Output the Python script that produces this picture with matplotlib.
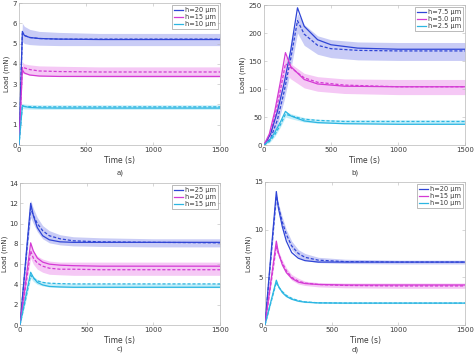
import numpy as np
import matplotlib
matplotlib.use("Agg")
import matplotlib.pyplot as plt

# ---------------- data ----------------
# Panel a
a_t = [0, 25, 40, 80, 150, 300, 600, 1000, 1500]
a_labels = ["h=20 \u03bcm", "h=15 \u03bcm", "h=10 \u03bcm"]
a_model = [[0, 5.6, 5.4, 5.3, 5.25, 5.22, 5.2, 5.2, 5.2],
           [0, 3.7, 3.55, 3.45, 3.4, 3.38, 3.38, 3.38, 3.38],
           [0, 1.95, 1.9, 1.85, 1.83, 1.82, 1.82, 1.82, 1.82]]
a_exp = [[0, 5.5, 5.4, 5.3, 5.25, 5.22, 5.22, 5.22, 5.22],
         [0, 3.85, 3.8, 3.72, 3.65, 3.62, 3.6, 3.6, 3.6],
         [0, 1.92, 1.9, 1.89, 1.88, 1.88, 1.88, 1.88, 1.88]]
a_hi = [[0, 6.0, 5.85, 5.7, 5.6, 5.55, 5.5, 5.5, 5.5],
        [0, 4.1, 4.0, 3.95, 3.9, 3.88, 3.85, 3.85, 3.85],
        [0, 2.05, 2.02, 2.0, 1.98, 1.98, 1.98, 1.98, 1.98]]
a_lo = [[0, 5.1, 5.0, 4.95, 4.92, 4.9, 4.9, 4.9, 4.9],
        [0, 3.55, 3.5, 3.45, 3.4, 3.38, 3.36, 3.35, 3.35],
        [0, 1.8, 1.78, 1.77, 1.76, 1.76, 1.76, 1.76, 1.76]]

# Panel b
b_labels = ["h=7.5 \u03bcm", "h=5.0 \u03bcm", "h=2.5 \u03bcm"]
b_t = [[0, 50, 100, 150, 200, 250, 300, 400, 500, 700, 1000, 1500],
       [0, 40, 80, 120, 160, 200, 300, 400, 600, 1000, 1500],
       [0, 40, 80, 120, 160, 200, 300, 400, 600, 1000, 1500]]
b_model = [[0, 20, 60, 110, 170, 245, 212, 188, 179, 173, 171, 171],
           [0, 20, 60, 110, 165, 140, 117, 109, 105, 104, 104],
           [0, 8, 22, 40, 60, 52, 43, 40, 38, 37, 37]]
b_exp = [[0, 12, 45, 95, 155, 222, 198, 178, 172, 169, 168, 168],
         [0, 15, 50, 95, 145, 138, 120, 112, 107, 104, 104],
         [0, 6, 18, 35, 55, 52, 46, 44, 42, 42, 42]]
b_hi = [[0, 25, 65, 115, 175, 235, 215, 195, 188, 184, 183, 183],
        [0, 22, 62, 112, 158, 145, 128, 122, 118, 117, 117],
        [0, 9, 22, 40, 60, 56, 49, 46, 45, 45, 45]]
b_lo = [[0, 8, 35, 80, 135, 200, 178, 162, 156, 152, 151, 151],
        [0, 10, 40, 80, 128, 118, 102, 96, 92, 90, 90],
        [0, 4, 15, 31, 50, 47, 41, 39, 38, 38, 38]]

# Panel c
c_t = [0, 40, 80, 100, 130, 170, 220, 300, 400, 600, 1000, 1500]
c_labels = ["h=25 \u03bcm", "h=20 \u03bcm", "h=15 \u03bcm"]
c_model = [[0, 6, 12, 10.8, 9.6, 8.8, 8.4, 8.2, 8.15, 8.15, 8.15, 8.15],
           [0, 4, 8.1, 7.3, 6.6, 6.2, 6.0, 5.9, 5.85, 5.8, 5.8, 5.8],
           [0, 2.6, 5.2, 4.7, 4.2, 3.95, 3.8, 3.75, 3.72, 3.72, 3.72, 3.72]]
c_exp = [[0, 5.8, 11.5, 10.8, 10.0, 9.3, 8.8, 8.5, 8.3, 8.2, 8.15, 8.1],
         [0, 3.6, 7.3, 6.6, 6.1, 5.8, 5.6, 5.5, 5.5, 5.45, 5.45, 5.45],
         [0, 2.4, 4.9, 4.6, 4.35, 4.2, 4.12, 4.08, 4.05, 4.05, 4.05, 4.05]]
c_hi = [[0, 6.3, 12.3, 11.5, 10.6, 9.8, 9.3, 8.9, 8.7, 8.6, 8.5, 8.5],
        [0, 4.1, 8.0, 7.3, 6.8, 6.5, 6.3, 6.2, 6.2, 6.2, 6.2, 6.2],
        [0, 2.6, 5.1, 4.8, 4.5, 4.3, 4.2, 4.15, 4.12, 4.12, 4.12, 4.12]]
c_lo = [[0, 5.3, 10.6, 10.0, 9.2, 8.5, 8.1, 7.9, 7.8, 7.75, 7.7, 7.7],
        [0, 3.3, 6.6, 6.0, 5.5, 5.2, 5.0, 4.95, 4.9, 4.9, 4.9, 4.9],
        [0, 2.2, 4.6, 4.3, 4.0, 3.85, 3.75, 3.7, 3.68, 3.68, 3.68, 3.68]]

# Panel d
d_t = [0, 42, 85, 100, 130, 160, 200, 250, 300, 400, 600, 1000, 1500]
d_labels = ["h=20 \u03bcm", "h=15 \u03bcm", "h=10 \u03bcm"]
d_model = [[0, 7, 14, 12.3, 10.3, 8.8, 7.6, 7.0, 6.75, 6.6, 6.6, 6.6, 6.6],
           [0, 4.4, 8.8, 7.6, 6.3, 5.5, 4.9, 4.5, 4.35, 4.25, 4.2, 4.2, 4.2],
           [0, 2.35, 4.7, 4.1, 3.4, 3.0, 2.7, 2.5, 2.4, 2.32, 2.3, 2.3, 2.3]]
d_exp = [[0, 6.7, 13.5, 12.5, 10.8, 9.5, 8.3, 7.5, 7.1, 6.8, 6.65, 6.6, 6.6],
         [0, 4.1, 8.3, 7.5, 6.5, 5.7, 5.0, 4.6, 4.4, 4.25, 4.15, 4.1, 4.1],
         [0, 2.25, 4.5, 4.0, 3.5, 3.1, 2.8, 2.55, 2.42, 2.33, 2.3, 2.3, 2.3]]
d_hi = [[0, 7.0, 13.8, 12.8, 11.3, 10.0, 8.8, 7.9, 7.5, 7.1, 6.9, 6.8, 6.8],
        [0, 4.3, 8.6, 7.8, 6.8, 6.0, 5.3, 4.9, 4.6, 4.45, 4.4, 4.4, 4.4],
        [0, 2.35, 4.6, 4.15, 3.6, 3.2, 2.9, 2.65, 2.5, 2.4, 2.36, 2.35, 2.35]]
d_lo = [[0, 6.4, 13.0, 12.0, 10.3, 9.0, 7.9, 7.1, 6.8, 6.55, 6.45, 6.4, 6.4],
        [0, 3.9, 8.0, 7.2, 6.2, 5.4, 4.7, 4.3, 4.15, 4.0, 3.9, 3.85, 3.85],
        [0, 2.15, 4.4, 3.85, 3.35, 2.95, 2.7, 2.45, 2.35, 2.27, 2.25, 2.25, 2.25]]

x_ticks = [0, 500, 1000, 1500]
a_yticks = [0, 1, 2, 3, 4, 5, 6, 7]
b_yticks = [0, 50, 100, 150, 200, 250]
c_yticks = [0, 2, 4, 6, 8, 10, 12, 14]
d_yticks = [0, 5, 10, 15]

# ---------------- style ----------------
line_colors = ["#2f45d6", "#d43ad4", "#2cb6e2"]
band_colors = ["#c9ccf6", "#f5c8f5", "#c4eef9"]
FS = 5.0
TXT = "#3a3a3a"
SPINE = "#b8b8b8"
W, H = 474, 355

fig = plt.figure(figsize=(4.74, 3.55), dpi=100)

# rect in pixels: left, top, right, bottom ; ylabel x px ; tag position px
panels = [
    ((19, 3, 220, 145), a_t, a_model, a_exp, a_hi, a_lo, a_labels, a_yticks, "a)", (120, 173), 7),
    ((264, 5, 465, 145), b_t, b_model, b_exp, b_hi, b_lo, b_labels, b_yticks, "b)", (355, 173), 243),
    ((20, 183, 220, 325), c_t, c_model, c_exp, c_hi, c_lo, c_labels, c_yticks, "c)", (120, 349), 5),
    ((265, 182, 465, 325), d_t, d_model, d_exp, d_hi, d_lo, d_labels, d_yticks, "d)", (355, 350), 249),
]

for px, tt, model, exp, hi, lo, labels, yticks, tag, tagpos, ylx in panels:
    l, t_, r, b = px
    ax = fig.add_axes([l / W, 1 - b / H, (r - l) / W, (b - t_) / H])
    for i in range(3):
        t = tt[i] if isinstance(tt[0], list) else tt
        ax.fill_between(t, lo[i], hi[i], color=band_colors[i], lw=0, zorder=1)
    handles = []
    for i in range(3):
        t = tt[i] if isinstance(tt[0], list) else tt
        h, = ax.plot(t, model[i], color=line_colors[i], lw=0.9, zorder=3, label=labels[i])
        ax.plot(t, exp[i], color=line_colors[i], lw=0.9, ls=(0, (2.5, 1.5)), zorder=2)
        handles.append(h)
    ax.set_xlim(0, 1500)
    ax.set_ylim(yticks[0], yticks[-1])
    ax.set_xticks(x_ticks)
    ax.set_yticks(yticks)
    ax.tick_params(direction="in", length=2, width=0.4, colors=SPINE, labelcolor=TXT,
                   labelsize=FS, pad=1.5, top=True, right=True)
    for s in ax.spines.values():
        s.set_color(SPINE)
        s.set_linewidth(0.5)
    ax.set_xlabel("Time (s)", fontsize=FS + 0.5, color=TXT, va="center")
    ax.xaxis.set_label_coords(0.5, -15.0 / (b - t_))
    ax.set_ylabel("Load (mN)", fontsize=FS, color=TXT, va="center")
    ax.yaxis.set_label_coords((ylx - l) / (r - l), 0.5)
    leg = ax.legend(handles=handles, loc="upper right", fontsize=FS - 0.2, frameon=True,
                    fancybox=False, handlelength=1.4, handletextpad=0.3, borderpad=0.3,
                    labelspacing=0.15, borderaxespad=0.3)
    leg.get_frame().set_edgecolor("#888888")
    leg.get_frame().set_linewidth(0.5)
    for txt in leg.get_texts():
        txt.set_color(TXT)
    fig.text(tagpos[0] / W, 1 - tagpos[1] / H, tag, ha="center", va="center",
             fontsize=FS, color=TXT)

fig.savefig("out.png", dpi=100)
